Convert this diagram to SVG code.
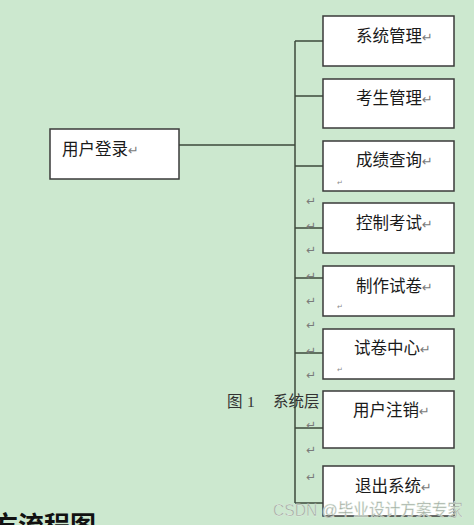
<svg xmlns="http://www.w3.org/2000/svg" width="474" height="525" viewBox="0 0 474 525">
<style>
.box{fill:#fff;stroke:#3a3a3a;stroke-width:1.5}
.lbl{font-family:"Noto Sans CJK SC","Liberation Serif",serif;font-size:16.5px;fill:#1a1a1a}
.ret{font-family:"DejaVu Sans",sans-serif;font-size:12px;fill:#7a7a7a}
.iret{font-family:"DejaVu Sans",sans-serif;font-size:13px;fill:#7a7a7a}
.mk{font-family:"DejaVu Sans",sans-serif;font-size:7px;fill:#8a8a8a}
.con{stroke:#3d4a3d;stroke-width:1.5;fill:none}
</style>
<rect width="474" height="525" fill="#cce8cf"/>
<text x="227" y="407" font-family="'Noto Sans CJK SC',serif" font-size="15.5" fill="#333">图<tspan x="247" font-family="'Liberation Serif',serif">1</tspan><tspan x="273">系统层</tspan></text>
<g id="connectors">
<path class="con" d="M295 41V503M179 145H295M295 41H323M295 96H323M295 166H323M295 228H323M295 278H323M295 353H323M295 428H323M295 503H323"/>
</g>
<g id="marks">
<text class="ret" x="306" y="205">↵</text>
<text class="ret" x="306" y="230">↵</text>
<text class="ret" x="306" y="254">↵</text>
<text class="ret" x="306" y="280">↵</text>
<text class="ret" x="306" y="305">↵</text>
<text class="ret" x="306" y="329">↵</text>
<text class="ret" x="306" y="355">↵</text>
<text class="ret" x="306" y="379">↵</text>
<text class="ret" x="306" y="429">↵</text>
<text class="ret" x="306" y="454">↵</text>
<text class="ret" x="306" y="481">↵</text>
</g>
<g id="login"><rect class="box" x="50" y="129" width="129" height="50"/><text class="lbl" x="62" y="155">用户登录<tspan class="iret">↵</tspan></text></g>
<g id="n1"><rect class="box" x="323" y="16" width="131" height="50"/><text class="lbl" x="356" y="42">系统管理<tspan class="iret">↵</tspan></text></g>
<g id="n2"><rect class="box" x="323" y="79" width="131" height="49"/><text class="lbl" x="356" y="104">考生管理<tspan class="iret">↵</tspan></text></g>
<g id="n3"><rect class="box" x="323" y="141" width="131" height="50"/><text class="lbl" x="356" y="166">成绩查询<tspan class="iret">↵</tspan></text><text class="mk" x="337" y="185">↵</text></g>
<g id="n4"><rect class="box" x="323" y="203" width="131" height="50"/><text class="lbl" x="356" y="229">控制考试<tspan class="iret">↵</tspan></text></g>
<g id="n5"><rect class="box" x="323" y="266" width="131" height="50"/><text class="lbl" x="356" y="292">制作试卷<tspan class="iret">↵</tspan></text><text class="mk" x="337" y="309">↵</text></g>
<g id="n6"><rect class="box" x="323" y="329" width="131" height="50"/><text class="lbl" x="354" y="354">试卷中心<tspan class="iret">↵</tspan></text><text class="mk" x="337" y="372">↵</text></g>
<g id="n7"><rect class="box" x="323" y="391" width="131" height="57"/><text class="lbl" x="353" y="416">用户注销<tspan class="iret">↵</tspan></text></g>
<g id="n8"><rect class="box" x="323" y="466" width="131" height="50"/><text class="lbl" x="355" y="492">退出系统<tspan class="iret">↵</tspan></text></g>
<text x="-8" y="535" font-family="'Noto Sans CJK SC',sans-serif" font-size="26" font-weight="bold" fill="#111">方流程图<tspan font-family="'DejaVu Sans',sans-serif" font-size="12" font-weight="normal" fill="#888">↵</tspan></text>
<text x="273" y="516" font-family="'Liberation Sans','Noto Sans CJK SC',sans-serif" font-size="17" fill="#9ea89e" stroke="#e8f2e8" stroke-width="0.4" textLength="190" lengthAdjust="spacingAndGlyphs">CSDN @毕业设计方案专家</text>
</svg>
